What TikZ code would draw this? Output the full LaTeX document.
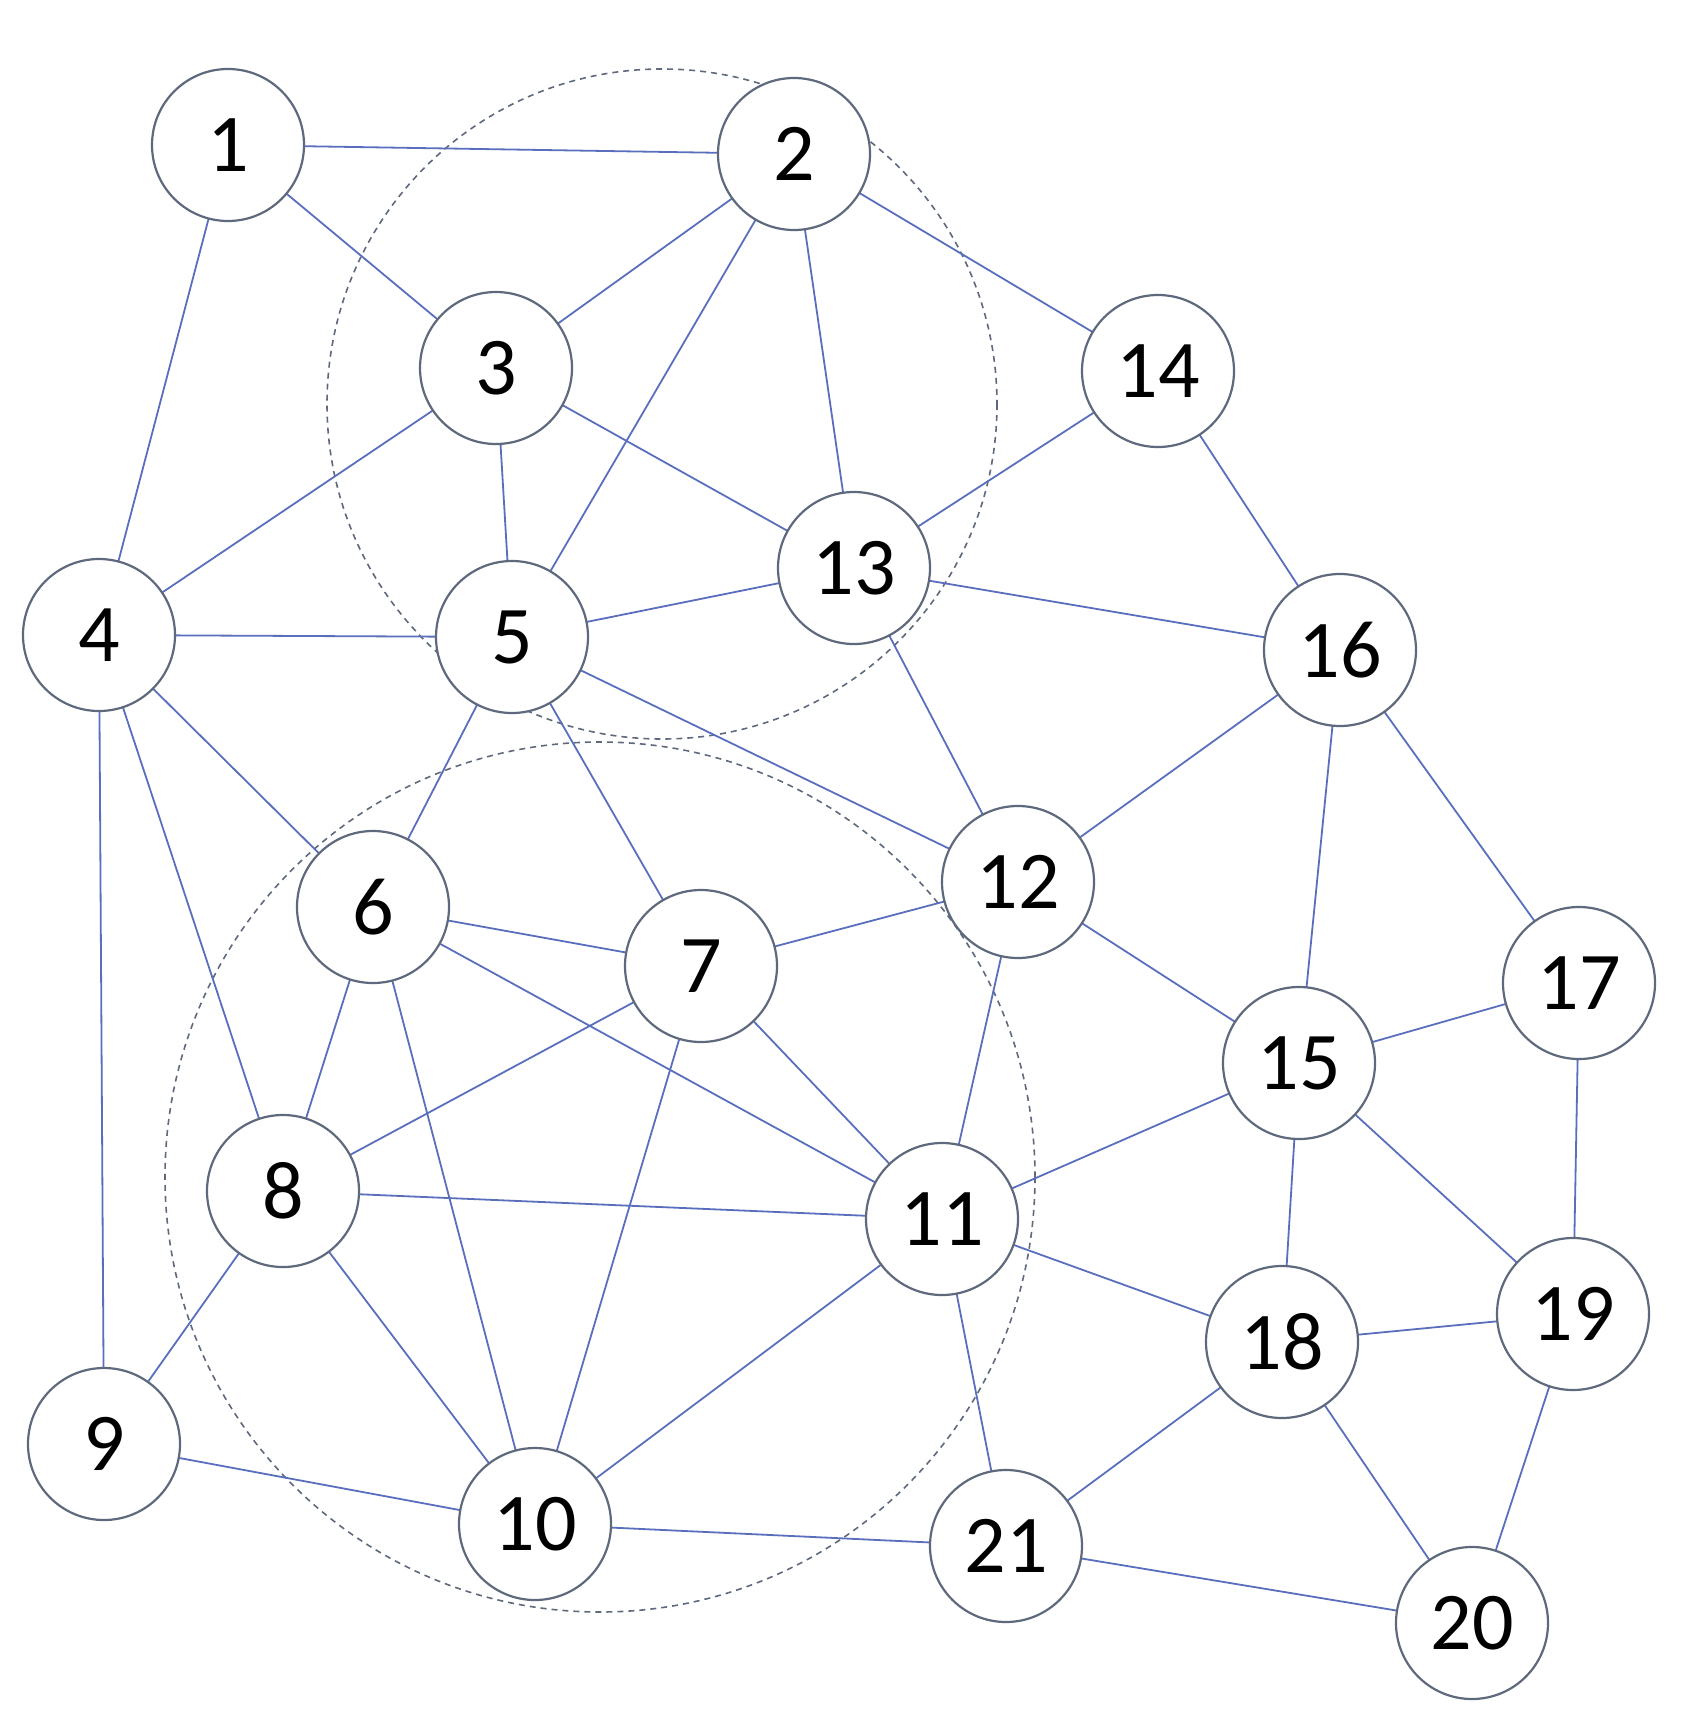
\documentclass[tikz,border=0pt]{standalone}
\usepackage{fontspec}
\setmainfont{Carlito}
\definecolor{edge}{RGB}{90,110,190}
\definecolor{ring}{RGB}{95,105,125}
\begin{document}
\begin{tikzpicture}[x=1pt,y=-1pt,
  vert/.style={circle,draw=ring,line width=2.2pt,fill=white,minimum size=152pt,inner sep=0pt,font=\fontsize{82}{82}\selectfont},
  link/.style={draw=edge,line width=1.8pt},
  zone/.style={draw=ring,dashed,line width=1.6pt,dash pattern=on 6pt off 5pt}]
\useasboundingbox (0,0) rectangle (1689,1721);
\draw[zone] (662,404) circle (335);
\draw[zone] (600,1177) circle (435);
\foreach \n/\x/\y in {1/228/145,2/794/154,3/496/368,4/99/635,5/512/637,6/373/907,7/701/966,8/283/1191,9/104/1444,10/535/1524,11/942/1219,12/1018/882,13/854/568,14/1158/371,15/1299/1063,16/1340/650,17/1579/983,18/1282/1342,19/1573/1314,20/1472/1623,21/1006/1546}
  \coordinate (c\n) at (\x,\y);
\foreach \a/\b in {1/2,1/3,1/4,2/3,2/5,2/13,2/14,3/4,3/5,3/13,4/5,4/6,4/8,4/9,5/13,5/6,5/7,5/12,13/14,13/16,13/12,14/16,16/12,16/15,16/17,12/7,12/15,12/11,6/7,6/8,6/10,6/11,7/8,7/10,7/11,8/11,8/9,8/10,10/11,9/10,10/21,11/15,11/18,11/21,15/17,15/18,15/19,17/19,18/19,18/21,18/20,19/20,21/20}
  \draw[link] (c\a) -- (c\b);
\foreach \n in {1,...,21}
  \node[vert] (n\n) at (c\n) {\n};
\end{tikzpicture}
\end{document}
